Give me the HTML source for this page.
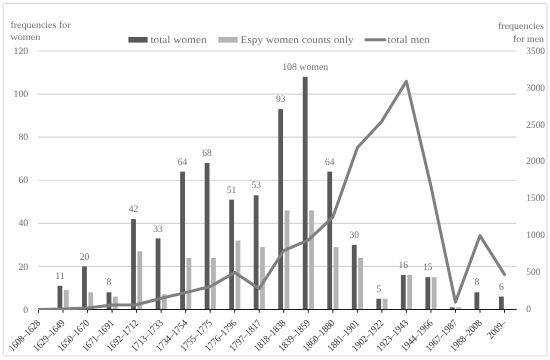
<!DOCTYPE html>
<html lang="en"><head><meta charset="utf-8"><title>Frequencies chart</title>
<style>html,body{margin:0;padding:0;background:#fff}svg{display:block}text{font-family:"Liberation Serif",serif;text-rendering:geometricPrecision}</style></head><body>
<svg width="550" height="360" viewBox="0 0 550 360">
<defs><clipPath id="pc"><rect x="37.9" y="40" width="480" height="270"/></clipPath></defs>
<rect x="0" y="0" width="550" height="360" fill="#fff"/>
<rect x="3.1" y="3.5" width="543.9" height="352.4" rx="1.2" fill="none" stroke="#d9d9d9" stroke-width="1"/>
<line x1="38.3" x2="516.6" y1="266.42" y2="266.42" stroke="#d6d6d6" stroke-width="1.15"/>
<line x1="38.3" x2="516.6" y1="223.33" y2="223.33" stroke="#d6d6d6" stroke-width="1.15"/>
<line x1="38.3" x2="516.6" y1="180.25" y2="180.25" stroke="#d6d6d6" stroke-width="1.15"/>
<line x1="38.3" x2="516.6" y1="137.17" y2="137.17" stroke="#d6d6d6" stroke-width="1.15"/>
<line x1="38.3" x2="516.6" y1="94.08" y2="94.08" stroke="#d6d6d6" stroke-width="1.15"/>
<line x1="38.3" x2="516.6" y1="51.00" y2="51.00" stroke="#d6d6d6" stroke-width="1.15"/>
<text x="23.30" y="312.60" font-size="9.8" fill="#707070" textLength="4.90" lengthAdjust="spacingAndGlyphs">0</text>
<text x="18.40" y="269.52" font-size="9.8" fill="#707070" textLength="9.80" lengthAdjust="spacingAndGlyphs">20</text>
<text x="18.40" y="226.43" font-size="9.8" fill="#707070" textLength="9.80" lengthAdjust="spacingAndGlyphs">40</text>
<text x="18.40" y="183.35" font-size="9.8" fill="#707070" textLength="9.80" lengthAdjust="spacingAndGlyphs">60</text>
<text x="18.40" y="140.27" font-size="9.8" fill="#707070" textLength="9.80" lengthAdjust="spacingAndGlyphs">80</text>
<text x="13.50" y="97.18" font-size="9.8" fill="#707070" textLength="14.70" lengthAdjust="spacingAndGlyphs">100</text>
<text x="13.50" y="54.10" font-size="9.8" fill="#707070" textLength="14.70" lengthAdjust="spacingAndGlyphs">120</text>
<text x="526.3" y="312.20" font-size="9.8" fill="#707070" textLength="4.67" lengthAdjust="spacingAndGlyphs">0</text>
<text x="526.3" y="275.27" font-size="9.8" fill="#707070" textLength="14.01" lengthAdjust="spacingAndGlyphs">500</text>
<text x="526.3" y="238.34" font-size="9.8" fill="#707070" textLength="18.68" lengthAdjust="spacingAndGlyphs">1000</text>
<text x="526.3" y="201.41" font-size="9.8" fill="#707070" textLength="18.68" lengthAdjust="spacingAndGlyphs">1500</text>
<text x="526.3" y="164.49" font-size="9.8" fill="#707070" textLength="18.68" lengthAdjust="spacingAndGlyphs">2000</text>
<text x="526.3" y="127.56" font-size="9.8" fill="#707070" textLength="18.68" lengthAdjust="spacingAndGlyphs">2500</text>
<text x="526.3" y="90.63" font-size="9.8" fill="#707070" textLength="18.68" lengthAdjust="spacingAndGlyphs">3000</text>
<text x="526.3" y="53.70" font-size="9.8" fill="#707070" textLength="18.68" lengthAdjust="spacingAndGlyphs">3500</text>
<text x="10.4" y="27.6" font-size="9.6" fill="#707070" textLength="60.2" lengthAdjust="spacingAndGlyphs">frequencies for</text>
<text x="10.4" y="40" font-size="9.6" fill="#707070" textLength="30" lengthAdjust="spacingAndGlyphs">women</text>
<text x="498" y="29" font-size="9.6" fill="#707070" textLength="46" lengthAdjust="spacingAndGlyphs">frequencies</text>
<text x="513" y="41.6" font-size="9.6" fill="#707070" textLength="31" lengthAdjust="spacingAndGlyphs">for men</text>
<rect x="128.4" y="37" width="19.2" height="5.6" fill="#595959"/>
<text x="150.4" y="42.6" font-size="10.4" fill="#707070" textLength="56.2" lengthAdjust="spacingAndGlyphs">total women</text>
<rect x="218.4" y="37" width="19.2" height="5.6" fill="#b4b4b4"/>
<text x="240.6" y="42.6" font-size="10.4" fill="#707070" textLength="113.1" lengthAdjust="spacingAndGlyphs">Espy women counts only</text>
<line x1="365.9" x2="384.9" y1="39.7" y2="39.7" stroke="#7f7f7f" stroke-width="3" stroke-linecap="round"/>
<text x="387.5" y="42.6" font-size="10.4" fill="#707070" textLength="42.4" lengthAdjust="spacingAndGlyphs">total men</text>
<rect x="57.53" y="285.80" width="4.8" height="23.70" fill="#595959"/>
<rect x="63.88" y="290.11" width="4.8" height="19.39" fill="#b4b4b4"/>
<rect x="82.05" y="266.42" width="4.8" height="43.08" fill="#595959"/>
<rect x="88.40" y="292.27" width="4.8" height="17.23" fill="#b4b4b4"/>
<rect x="106.58" y="292.27" width="4.8" height="17.23" fill="#595959"/>
<rect x="112.93" y="296.57" width="4.8" height="12.93" fill="#b4b4b4"/>
<rect x="131.10" y="219.02" width="4.8" height="90.48" fill="#595959"/>
<rect x="137.45" y="251.34" width="4.8" height="58.16" fill="#b4b4b4"/>
<rect x="155.63" y="238.41" width="4.8" height="71.09" fill="#595959"/>
<rect x="161.98" y="294.42" width="4.8" height="15.08" fill="#b4b4b4"/>
<rect x="180.16" y="171.63" width="4.8" height="137.87" fill="#595959"/>
<rect x="186.51" y="257.80" width="4.8" height="51.70" fill="#b4b4b4"/>
<rect x="204.68" y="163.02" width="4.8" height="146.48" fill="#595959"/>
<rect x="211.03" y="257.80" width="4.8" height="51.70" fill="#b4b4b4"/>
<rect x="229.21" y="199.64" width="4.8" height="109.86" fill="#595959"/>
<rect x="235.56" y="240.57" width="4.8" height="68.93" fill="#b4b4b4"/>
<rect x="253.73" y="195.33" width="4.8" height="114.17" fill="#595959"/>
<rect x="260.08" y="247.03" width="4.8" height="62.47" fill="#b4b4b4"/>
<rect x="278.26" y="109.16" width="4.8" height="200.34" fill="#595959"/>
<rect x="284.61" y="210.41" width="4.8" height="99.09" fill="#b4b4b4"/>
<rect x="302.79" y="76.85" width="4.8" height="232.65" fill="#595959"/>
<rect x="309.14" y="210.41" width="4.8" height="99.09" fill="#b4b4b4"/>
<rect x="327.31" y="171.63" width="4.8" height="137.87" fill="#595959"/>
<rect x="333.66" y="247.03" width="4.8" height="62.47" fill="#b4b4b4"/>
<rect x="351.84" y="244.88" width="4.8" height="64.62" fill="#595959"/>
<rect x="358.19" y="257.80" width="4.8" height="51.70" fill="#b4b4b4"/>
<rect x="376.36" y="298.73" width="4.8" height="10.77" fill="#595959"/>
<rect x="382.71" y="298.73" width="4.8" height="10.77" fill="#b4b4b4"/>
<rect x="400.89" y="275.03" width="4.8" height="34.47" fill="#595959"/>
<rect x="407.24" y="275.03" width="4.8" height="34.47" fill="#b4b4b4"/>
<rect x="425.42" y="277.19" width="4.8" height="32.31" fill="#595959"/>
<rect x="431.77" y="277.19" width="4.8" height="32.31" fill="#b4b4b4"/>
<rect x="449.94" y="307.35" width="4.8" height="2.15" fill="#595959"/>
<rect x="456.29" y="307.35" width="4.8" height="2.15" fill="#b4b4b4"/>
<rect x="474.47" y="292.27" width="4.8" height="17.23" fill="#595959"/>
<rect x="498.99" y="296.57" width="4.8" height="12.93" fill="#595959"/>
<line x1="37.9" x2="516.7" y1="309.5" y2="309.5" stroke="#1a1a1a" stroke-width="1"/>
<line x1="38.50" x2="38.50" y1="309.5" y2="312.80" stroke="#1a1a1a" stroke-width="1"/>
<line x1="63.03" x2="63.03" y1="309.5" y2="312.80" stroke="#1a1a1a" stroke-width="1"/>
<line x1="87.55" x2="87.55" y1="309.5" y2="312.80" stroke="#1a1a1a" stroke-width="1"/>
<line x1="112.08" x2="112.08" y1="309.5" y2="312.80" stroke="#1a1a1a" stroke-width="1"/>
<line x1="136.60" x2="136.60" y1="309.5" y2="312.80" stroke="#1a1a1a" stroke-width="1"/>
<line x1="161.13" x2="161.13" y1="309.5" y2="312.80" stroke="#1a1a1a" stroke-width="1"/>
<line x1="185.66" x2="185.66" y1="309.5" y2="312.80" stroke="#1a1a1a" stroke-width="1"/>
<line x1="210.18" x2="210.18" y1="309.5" y2="312.80" stroke="#1a1a1a" stroke-width="1"/>
<line x1="234.71" x2="234.71" y1="309.5" y2="312.80" stroke="#1a1a1a" stroke-width="1"/>
<line x1="259.23" x2="259.23" y1="309.5" y2="312.80" stroke="#1a1a1a" stroke-width="1"/>
<line x1="283.76" x2="283.76" y1="309.5" y2="312.80" stroke="#1a1a1a" stroke-width="1"/>
<line x1="308.29" x2="308.29" y1="309.5" y2="312.80" stroke="#1a1a1a" stroke-width="1"/>
<line x1="332.81" x2="332.81" y1="309.5" y2="312.80" stroke="#1a1a1a" stroke-width="1"/>
<line x1="357.34" x2="357.34" y1="309.5" y2="312.80" stroke="#1a1a1a" stroke-width="1"/>
<line x1="381.86" x2="381.86" y1="309.5" y2="312.80" stroke="#1a1a1a" stroke-width="1"/>
<line x1="406.39" x2="406.39" y1="309.5" y2="312.80" stroke="#1a1a1a" stroke-width="1"/>
<line x1="430.92" x2="430.92" y1="309.5" y2="312.80" stroke="#1a1a1a" stroke-width="1"/>
<line x1="455.44" x2="455.44" y1="309.5" y2="312.80" stroke="#1a1a1a" stroke-width="1"/>
<line x1="479.97" x2="479.97" y1="309.5" y2="312.80" stroke="#1a1a1a" stroke-width="1"/>
<line x1="504.49" x2="504.49" y1="309.5" y2="312.80" stroke="#1a1a1a" stroke-width="1"/>
<polyline points="38.50,309.50 63.03,308.98 87.55,308.10 112.08,305.07 136.60,304.77 161.13,298.20 185.66,292.59 210.18,286.46 234.71,272.57 259.23,288.75 283.76,250.56 308.29,240.15 332.81,217.18 357.34,147.75 381.86,121.16 406.39,81.28 430.92,186.16 455.44,302.11 479.97,235.64 504.49,274.42" fill="none" stroke="#7f7f7f" stroke-width="3" stroke-linejoin="round" stroke-linecap="round" clip-path="url(#pc)"/>
<text x="55.18" y="278.90" font-size="10" fill="#707070" textLength="9.50" lengthAdjust="spacingAndGlyphs">11</text>
<text x="79.70" y="259.52" font-size="10" fill="#707070" textLength="9.50" lengthAdjust="spacingAndGlyphs">20</text>
<text x="106.60" y="285.37" font-size="10" fill="#707070" textLength="4.75" lengthAdjust="spacingAndGlyphs">8</text>
<text x="128.75" y="212.12" font-size="10" fill="#707070" textLength="9.50" lengthAdjust="spacingAndGlyphs">42</text>
<text x="153.28" y="231.51" font-size="10" fill="#707070" textLength="9.50" lengthAdjust="spacingAndGlyphs">33</text>
<text x="177.81" y="164.73" font-size="10" fill="#707070" textLength="9.50" lengthAdjust="spacingAndGlyphs">64</text>
<text x="202.33" y="156.12" font-size="10" fill="#707070" textLength="9.50" lengthAdjust="spacingAndGlyphs">68</text>
<text x="226.86" y="192.74" font-size="10" fill="#707070" textLength="9.50" lengthAdjust="spacingAndGlyphs">51</text>
<text x="251.38" y="188.43" font-size="10" fill="#707070" textLength="9.50" lengthAdjust="spacingAndGlyphs">53</text>
<text x="275.91" y="102.26" font-size="10" fill="#707070" textLength="9.50" lengthAdjust="spacingAndGlyphs">93</text>
<text x="282.19" y="69.95" font-size="10" fill="#707070" textLength="46.00" lengthAdjust="spacingAndGlyphs">108 women</text>
<text x="324.96" y="164.73" font-size="10" fill="#707070" textLength="9.50" lengthAdjust="spacingAndGlyphs">64</text>
<text x="349.49" y="237.97" font-size="10" fill="#707070" textLength="9.50" lengthAdjust="spacingAndGlyphs">30</text>
<text x="376.39" y="291.83" font-size="10" fill="#707070" textLength="4.75" lengthAdjust="spacingAndGlyphs">5</text>
<text x="398.54" y="268.13" font-size="10" fill="#707070" textLength="9.50" lengthAdjust="spacingAndGlyphs">16</text>
<text x="423.07" y="270.29" font-size="10" fill="#707070" textLength="9.50" lengthAdjust="spacingAndGlyphs">15</text>
<text x="474.49" y="285.37" font-size="10" fill="#707070" textLength="4.75" lengthAdjust="spacingAndGlyphs">8</text>
<text x="499.02" y="289.68" font-size="10" fill="#707070" textLength="4.75" lengthAdjust="spacingAndGlyphs">6</text>
<text transform="translate(40.90,323.50) rotate(-45)" x="-40.20" y="0" font-size="10" fill="#2e2e2e" textLength="40.20" lengthAdjust="spacingAndGlyphs">1608–1628</text>
<text transform="translate(65.43,323.50) rotate(-45)" x="-40.20" y="0" font-size="10" fill="#2e2e2e" textLength="40.20" lengthAdjust="spacingAndGlyphs">1629–1649</text>
<text transform="translate(89.95,323.50) rotate(-45)" x="-40.20" y="0" font-size="10" fill="#2e2e2e" textLength="40.20" lengthAdjust="spacingAndGlyphs">1650–1670</text>
<text transform="translate(114.48,323.50) rotate(-45)" x="-40.20" y="0" font-size="10" fill="#2e2e2e" textLength="40.20" lengthAdjust="spacingAndGlyphs">1671–1691</text>
<text transform="translate(139.00,323.50) rotate(-45)" x="-40.20" y="0" font-size="10" fill="#2e2e2e" textLength="40.20" lengthAdjust="spacingAndGlyphs">1692–1712</text>
<text transform="translate(163.53,323.50) rotate(-45)" x="-40.20" y="0" font-size="10" fill="#2e2e2e" textLength="40.20" lengthAdjust="spacingAndGlyphs">1713–1733</text>
<text transform="translate(188.06,323.50) rotate(-45)" x="-40.20" y="0" font-size="10" fill="#2e2e2e" textLength="40.20" lengthAdjust="spacingAndGlyphs">1734–1754</text>
<text transform="translate(212.58,323.50) rotate(-45)" x="-40.20" y="0" font-size="10" fill="#2e2e2e" textLength="40.20" lengthAdjust="spacingAndGlyphs">1755–1775</text>
<text transform="translate(237.11,323.50) rotate(-45)" x="-40.20" y="0" font-size="10" fill="#2e2e2e" textLength="40.20" lengthAdjust="spacingAndGlyphs">1776–1796</text>
<text transform="translate(261.63,323.50) rotate(-45)" x="-40.20" y="0" font-size="10" fill="#2e2e2e" textLength="40.20" lengthAdjust="spacingAndGlyphs">1797–1817</text>
<text transform="translate(286.16,323.50) rotate(-45)" x="-40.20" y="0" font-size="10" fill="#2e2e2e" textLength="40.20" lengthAdjust="spacingAndGlyphs">1818–1838</text>
<text transform="translate(310.69,323.50) rotate(-45)" x="-40.20" y="0" font-size="10" fill="#2e2e2e" textLength="40.20" lengthAdjust="spacingAndGlyphs">1839–1859</text>
<text transform="translate(335.21,323.50) rotate(-45)" x="-40.20" y="0" font-size="10" fill="#2e2e2e" textLength="40.20" lengthAdjust="spacingAndGlyphs">1860–1880</text>
<text transform="translate(359.74,323.50) rotate(-45)" x="-40.20" y="0" font-size="10" fill="#2e2e2e" textLength="40.20" lengthAdjust="spacingAndGlyphs">1881–1901</text>
<text transform="translate(384.26,323.50) rotate(-45)" x="-40.20" y="0" font-size="10" fill="#2e2e2e" textLength="40.20" lengthAdjust="spacingAndGlyphs">1902–1922</text>
<text transform="translate(408.79,323.50) rotate(-45)" x="-40.20" y="0" font-size="10" fill="#2e2e2e" textLength="40.20" lengthAdjust="spacingAndGlyphs">1923–1943</text>
<text transform="translate(433.32,323.50) rotate(-45)" x="-40.20" y="0" font-size="10" fill="#2e2e2e" textLength="40.20" lengthAdjust="spacingAndGlyphs">1944–1966</text>
<text transform="translate(457.84,323.50) rotate(-45)" x="-40.20" y="0" font-size="10" fill="#2e2e2e" textLength="40.20" lengthAdjust="spacingAndGlyphs">1967–1987</text>
<text transform="translate(482.37,323.50) rotate(-45)" x="-40.20" y="0" font-size="10" fill="#2e2e2e" textLength="40.20" lengthAdjust="spacingAndGlyphs">1988–2008</text>
<text transform="translate(506.89,323.50) rotate(-45)" x="-22.33" y="0" font-size="10" fill="#2e2e2e" textLength="22.33" lengthAdjust="spacingAndGlyphs">2009–</text>
</svg></body></html>
